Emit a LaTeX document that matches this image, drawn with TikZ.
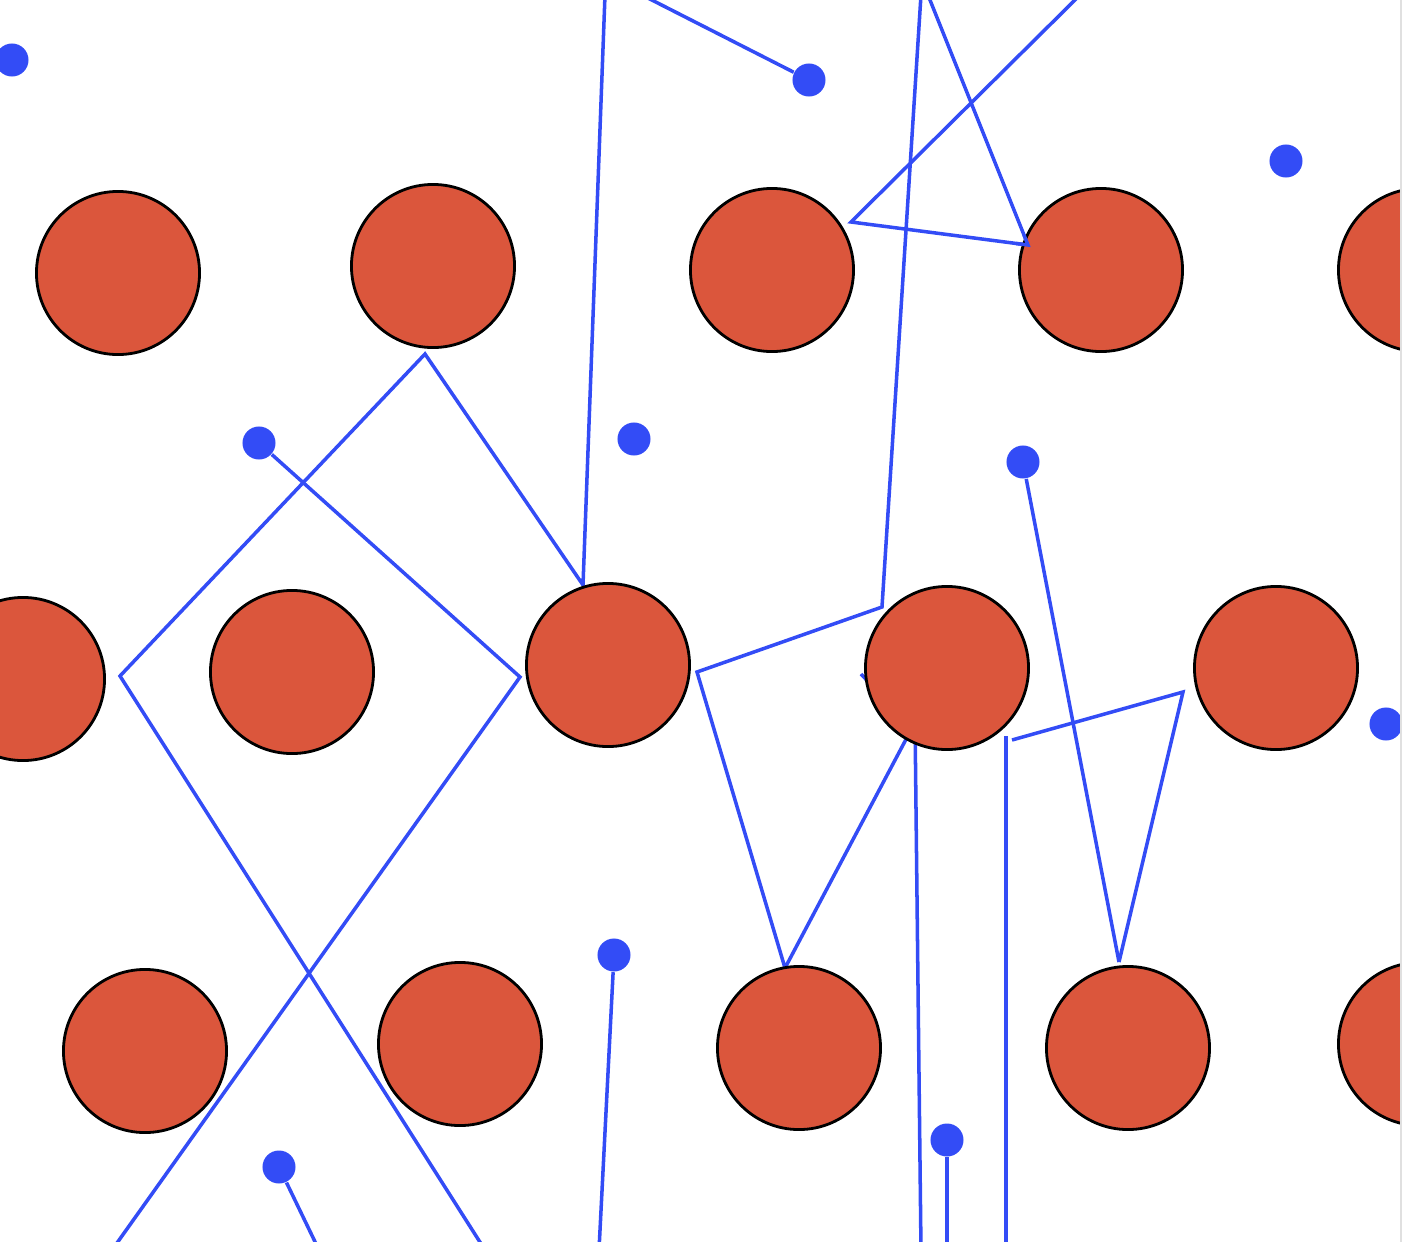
\documentclass[tikz,border=0pt]{standalone}
\usepackage{tikz}
\definecolor{ballred}{RGB}{219,86,60}
\definecolor{pinblue}{RGB}{51,76,246}
\tikzset{
  ball/.style={circle,draw=black,fill=ballred,line width=0.8pt,minimum size=1.63cm,inner sep=0pt},
  pin/.style={circle,fill=pinblue,minimum size=0.33cm,inner sep=0pt},
  wire/.style={draw=pinblue,line width=1pt,line join=miter},
}

\begin{document}
\begin{tikzpicture}[x=0.01cm,y=-0.01cm]

  \useasboundingbox (0,0) rectangle (1402,1242);
  \clip (0,0) rectangle (1402,1242);

  % pins
  \node[pin] (pa) at (12,60) {};
  \node[pin] (pb) at (809,80) {};
  \node[pin] (pc) at (1286,161) {};
  \node[pin] (pd) at (259,443) {};
  \node[pin] (pe) at (634,439) {};
  \node[pin] (pf) at (1023,462) {};
  \node[pin] (pg) at (1386,724) {};
  \node[pin] (ph) at (614,955) {};
  \node[pin] (pi) at (947,1140) {};
  \node[pin] (pj) at (279,1167) {};

  % wires
  \draw[wire] (pb) -- (642,-5); % top middle
  \draw[wire] (605,-5) -- (583,585) -- (425,354) -- (120,676) -- (485,1250); % diamond
  \draw[wire] (pd) -- (520,677) -- (112,1250);
  \draw[wire] (921,-5) -- (882,607) -- (697,672) -- (785,968) -- (912,728) -- (861,674);
  \draw[wire] (1080,-5) -- (851,222) -- (1028,245) -- (928,-5); % top triangle
  \draw[wire] (915,720) -- (921,1250);
  \draw[wire] (1006,736) -- (1006,1250);
  \draw[wire] (1012,740) -- (1183,692) -- (1119,962); % right triangle
  \draw[wire] (pf) -- (1119,962);
  \draw[wire] (pi) -- (947,1250);
  \draw[wire] (ph) -- (599,1250);
  \draw[wire] (pj) -- (319,1250);

  % balls
  \node[ball] (b11) at (118,273) {};
  \node[ball] (b12) at (433,266) {};
  \node[ball] (b13) at (772,270) {};
  \node[ball] (b14) at (1101,270) {};
  \node[ball] (b15) at (1420,270) {};
  \node[ball] (b21) at (23,679) {};
  \node[ball] (b22) at (292,672) {};
  \node[ball] (b23) at (608,665) {};
  \node[ball] (b24) at (947,668) {};
  \node[ball] (b25) at (1276,668) {};
  \node[ball] (b31) at (145,1051) {};
  \node[ball] (b32) at (460,1044) {};
  \node[ball] (b33) at (799,1048) {};
  \node[ball] (b34) at (1128,1048) {};
  \node[ball] (b35) at (1420,1044) {};

  % corner of the top triangle shows over the ball edge
  \draw[wire] (1016,243.5) -- (1028,245) -- (1024,235);

  \draw[black!12] (1401,0) -- (1401,1242); % right edge

\end{tikzpicture}
\end{document}
